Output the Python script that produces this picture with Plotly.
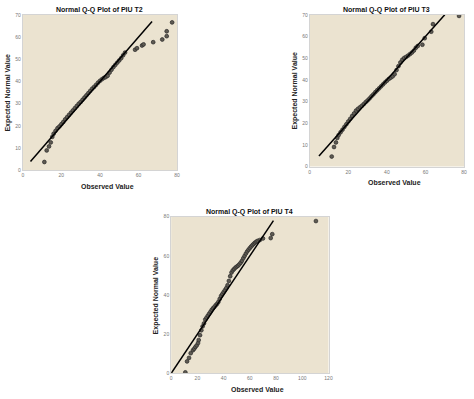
import plotly.graph_objects as go

# ---- data ----
t2_obs = [11.2, 12.4, 13.6, 14.5, 15.3, 16, 17, 18, 19, 20, 21, 22, 23, 24, 25, 26, 27, 28, 29, 30,
          31, 32, 33, 34, 35, 36, 37, 38, 39, 40, 41, 42, 43, 44, 45, 46, 47, 48, 49, 50, 51, 52, 53,
          58.2, 59.2, 61.8, 62.6, 67.6, 72.3, 74.6, 74.6, 77.4]
t2_exp = [3.8, 9.0, 10.8, 12.6, 15.1, 16.5, 17.8, 19, 19.8, 20.8, 21.8, 23, 24, 25, 26, 27, 28, 29, 30, 30.8,
          31.8, 32.8, 33.8, 34.8, 35.8, 36.8, 37.6, 38.5, 39.5, 40.3, 41, 41.6, 42, 42.6, 44, 45.3, 46.5, 47.5, 48.5, 49.5, 50.5, 51.8, 53,
          54.3, 55.0, 56.2, 56.7, 57.7, 58.9, 60.4, 62.6, 66.6]
t2_line = [4, 67]

t3_obs = [11.4, 12.6, 13.6, 14.3, 15, 16, 17, 18, 19, 20, 21, 22, 23, 24, 25, 26, 27, 28, 29, 30,
          31, 32, 33, 34, 35, 36, 37, 38, 39, 40, 41, 42, 43, 44, 45, 46, 47, 48, 49, 50, 51, 52, 53,
          54, 55, 56, 58.4, 59.6, 63, 63.9, 77.4]
t3_exp = [4.6, 9.0, 11.1, 13.2, 14.5, 15.8, 17, 18.3, 19.5, 20.8, 22, 23.3, 24.5, 25.8, 26.6, 27.3, 28, 28.8, 29.7, 30.5,
          31.4, 32.4, 33.3, 34.3, 35.2, 36.1, 37, 37.9, 38.8, 39.6, 40.4, 41, 41.6, 42.6, 44.5, 46.3, 48, 49.3, 50.1, 50.6, 51.2, 51.9, 52.6,
          53.5, 54.8, 55.6, 56.2, 59.2, 62.2, 65.7, 69.5]
t3_line = [4.8, 70]

t4_obs = [10.8, 12.1, 13.6, 14.9, 16.6, 17.6, 18.5, 19.5, 20.5, 21, 22, 23, 24, 25, 26, 27, 28, 29, 30,
          31, 32, 33, 34, 35, 36, 37, 38, 39, 40, 41, 42, 43, 44, 45, 46, 47, 48, 49, 50, 51, 52, 53,
          54, 55, 56, 57, 58, 59, 60, 61, 62, 63, 64, 65, 66, 67.6, 70, 75.9, 77.1, 110.4]
t4_exp = [0.5, 6.1, 7.9, 10.3, 11.8, 12.6, 13.5, 14.3, 15.5, 17, 19.5, 22, 24, 25.5, 27.5, 28.5, 29.5, 30.5, 31.5,
          32.5, 33.3, 34, 34.8, 35.5, 36.5, 38, 39.5, 40.5, 41.5, 42.5, 43.5, 45, 47.2, 49.6, 51.5, 52.6, 53.3, 54, 54.5, 55, 55.7, 56.5,
          57.5, 58.8, 60, 61.2, 62.3, 63.2, 64, 64.8, 65.5, 66.2, 66.8, 67.3, 67.7, 68.1, 68.9, 69.1, 71.1, 77.8]
t4_line = [0, 78]

titles = ["Normal Q-Q Plot of PIU T2", "Normal Q-Q Plot of PIU T3", "Normal Q-Q Plot of PIU T4"]
x_title = "Observed Value"
y_title = "Expected Normal Value"

W, H = 474, 399
FONT = "Liberation Sans, Arial, sans-serif"
BG = "#ebe3d0"

# panel boxes in pixels: left, right, top, bottom
boxes = [(22, 178, 12, 170), (312, 468, 12, 166), (172, 331, 217, 376)]
xranges = [[0, 80], [0, 80], [0, 120]]
yranges = [[0, 70], [0, 70], [0, 80]]
xdt = [20, 20, 20]
ydt = [10, 10, 20]

series = [(t2_obs, t2_exp, t2_line), (t3_obs, t3_exp, t3_line), (t4_obs, t4_exp, t4_line)]

fig = go.Figure()
annotations = []
for i, ((obs, exp, ln), (l, r, t, b)) in enumerate(zip(series, boxes)):
    sfx = "" if i == 0 else str(i + 1)
    xa, ya = "x" + sfx, "y" + sfx
    fig.add_trace(go.Scatter(x=obs, y=exp, mode="markers",
                             marker=dict(size=3.8, color="#5e5a52", line=dict(color="#2a2a2a", width=0.7)),
                             xaxis=xa, yaxis=ya, showlegend=False))
    fig.add_trace(go.Scatter(x=ln, y=ln, mode="lines", line=dict(color="black", width=1.5),
                             xaxis=xa, yaxis=ya, showlegend=False, hoverinfo="skip"))
    axcommon = dict(showgrid=False, zeroline=False, showline=True, mirror=True,
                    linecolor="#d4d4d4", linewidth=1, ticks="", tickfont=dict(size=5, color="#777777", family=FONT))
    fig.layout["xaxis" + sfx] = dict(domain=[l / W, r / W], range=xranges[i], dtick=xdt[i],
                                     anchor=ya, **axcommon)
    fig.layout["yaxis" + sfx] = dict(domain=[1 - b / H, 1 - t / H], range=yranges[i], dtick=ydt[i],
                                     anchor=xa, **axcommon)
    cx = (l + r) / 2
    annotations.append(dict(text="<b>" + titles[i] + "</b>", x=cx / W, y=1 - (t - 5) / H,
                            xref="paper", yref="paper", showarrow=False, xanchor="center", yanchor="middle",
                            font=dict(size=7, family=FONT, color="#111")))
    annotations.append(dict(text="<b>" + x_title + "</b>", x=(cx + 8) / W, y=1 - (b + 16) / H,
                            xref="paper", yref="paper", showarrow=False, xanchor="center", yanchor="middle",
                            font=dict(size=7, family=FONT, color="#222")))
    annotations.append(dict(text="<b>" + y_title + "</b>", x=(l - 15) / W, y=1 - ((t + b) / 2) / H,
                            xref="paper", yref="paper", showarrow=False, xanchor="center", yanchor="middle",
                            textangle=-90, font=dict(size=7, family=FONT, color="#222")))

fig.update_layout(width=W, height=H, margin=dict(l=0, r=0, t=0, b=0),
                  paper_bgcolor="white", plot_bgcolor=BG, annotations=annotations,
                  font=dict(family=FONT))
fig.write_html("out.html")
